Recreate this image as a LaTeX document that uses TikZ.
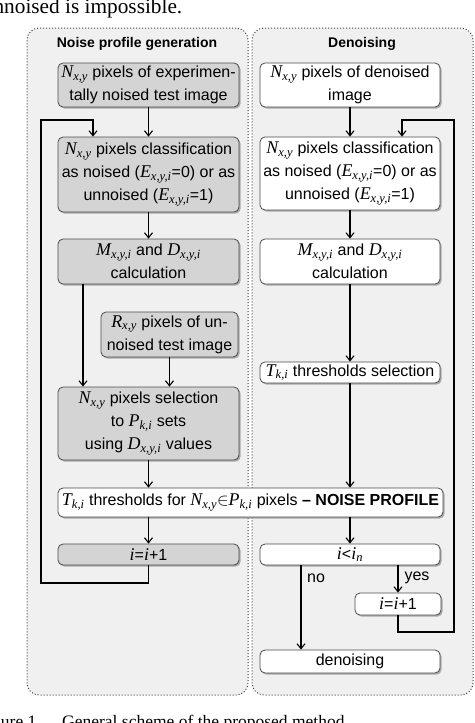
\documentclass[tikz,border=0pt]{standalone}
\usepackage{fontspec}
\setmainfont{Liberation Sans}
\newfontfamily\tms{Liberation Serif}[Scale=1.12]
\newfontfamily\tmsplain{Liberation Serif}
\usetikzlibrary{arrows.meta,shadows,calc}
\newcommand\mv[2]{{\tms\itshape #1\textsubscript{#2}}}
\newcommand\bodyfont{\fontsize{16}{23}\selectfont}
\begin{document}
\begin{tikzpicture}[x=1pt,y=-1pt,
  panel/.style={draw=black!75, dotted, line width=1pt, fill=black!6, rounded corners=12pt, inner sep=0pt},
  box/.style={draw=black!70, line width=0.8pt, rounded corners=5pt, inner sep=0pt, align=center, font=\bodyfont,
    drop shadow={shadow xshift=1.6pt, shadow yshift=-1.6pt, fill=black!45, opacity=0.7}},
  gbox/.style={box, fill=black!17},
  wbox/.style={box, fill=white},
  ttl/.style={font=\fontsize{14}{17}\selectfont\bfseries},
  lbl/.style={font=\bodyfont, inner sep=0pt},
  arr/.style={-{Straight Barb[length=5pt,width=8pt]}, line width=1.1pt},
  ln/.style={line width=1.1pt}]
\useasboundingbox (0,0) rectangle (474,723);

% cut text above and below
\node[anchor=base east, inner sep=0pt, font=\tmsplain\fontsize{21.3}{24}\selectfont] (toptext) at (182.5,13) {unnoised is impossible.};
\node[anchor=base east, inner sep=0pt, font=\tmsplain\fontsize{17.5}{20}\selectfont] (capnum) at (41,727.5) {Figure 1.};
\node[anchor=base west, inner sep=0pt, font=\tmsplain\fontsize{17.5}{20}\selectfont] (captext) at (62,727.5) {General scheme of the proposed method};

% panels
\node[panel, minimum width=221pt, minimum height=667pt] (P1) at (137.5,361.5) {};
\node[panel, minimum width=221pt, minimum height=667pt] (P2) at (362.5,361.5) {};
\node[ttl] (T1) at (137,44) {Noise profile generation};
\node[ttl] (T2) at (362,44) {Denoising};

% left column
\node[gbox, minimum width=181pt, minimum height=44pt] (L1) at (148.5,85) {\mv{N}{x,y} pixels of experimen-\\tally noised test image};
\node[gbox, minimum width=181pt, minimum height=75pt] (L2) at (148.5,174.5) {\mv{N}{x,y} pixels classification\\as noised (\mv{E}{x,y,i}=0) or as\\unnoised (\mv{E}{x,y,i}=1)};
\node[gbox, minimum width=181pt, minimum height=45pt] (L3) at (148.5,261.5) {\mv{M}{x,y,i} and \mv{D}{x,y,i}\\calculation};
\node[gbox, minimum width=137pt, minimum height=45pt] (L4) at (169.5,334.5) {\mv{R}{x,y} pixels of un-\\noised test image};
\node[gbox, minimum width=181pt, minimum height=73pt] (L5) at (148.5,423.5) {\mv{N}{x,y} pixels selection\\to \mv{P}{k,i} sets\\using \mv{D}{x,y,i} values};
\node[wbox, minimum width=385pt, minimum height=29pt] (NP) at (250.5,502.5) {\mv{T}{k,i} thresholds for \mv{N}{x,y}$\in$\mv{P}{k,i} pixels \textbf{-- NOISE PROFILE}};
\node[gbox, minimum width=181pt, minimum height=21pt] (L6) at (148.5,554.5) {{\tms\itshape i}={\tms\itshape i}+1};

% right column
\node[wbox, minimum width=180pt, minimum height=44pt] (R1) at (350,85) {\mv{N}{x,y} pixels of denoised\\image};
\node[wbox, minimum width=180pt, minimum height=73pt] (R2) at (350,173.5) {\mv{N}{x,y} pixels classification\\as noised (\mv{E}{x,y,i}=0) or as\\unnoised (\mv{E}{x,y,i}=1)};
\node[wbox, minimum width=180pt, minimum height=45pt] (R3) at (350,261.5) {\mv{M}{x,y,i} and \mv{D}{x,y,i}\\calculation};
\node[wbox, minimum width=180pt, minimum height=21pt] (R4) at (350,372.5) {\mv{T}{k,i} thresholds selection};
\node[wbox, minimum width=180pt, minimum height=21pt] (R6) at (350,554.5) {{\tms\itshape i}<\mv{i}{n}};
\node[wbox, minimum width=86pt, minimum height=22pt] (R7) at (398,604) {{\tms\itshape i}={\tms\itshape i}+1};
\node[wbox, minimum width=180pt, minimum height=23pt] (R8) at (350,661.5) {denoising};

% helper coordinates
\coordinate (la) at (41,583);
\coordinate (lb) at (93,120);
\coordinate (lx) at (83,0);
\coordinate (ra) at (454,632);
\coordinate (rb) at (402,120);
\coordinate (nx) at (301,0);

% left connectors
\draw[arr] (L1.south) -- (L2.north);
\draw[arr] (L2.south) -- (L3.north);
\draw[arr] (L3.south -| lx) -- (L5.north -| lx);
\draw[arr] (L4.south) -- (L4.south |- L5.north);
\draw[arr] (L5.south) -- (L5.south |- NP.north);
\draw[arr] (L6.north |- NP.south) -- (L6.north);
\draw[arr] (L6.south) |- (la) |- (lb) -- (lb |- L2.north);

% right connectors
\draw[arr] (R1.south) -- (R2.north);
\draw[arr] (R2.south) -- (R3.north);
\draw[arr] (R3.south) -- (R4.north);
\draw[arr] (R4.south) -- (R4.south |- NP.north);
\draw[arr] (R6.north |- NP.south) -- (R6.north);
\draw[arr] (R7.north |- R6.south) -- (R7.north);
\draw[arr] (R6.south -| nx) -- (R8.north -| nx);
\draw[arr] (R7.south) |- (ra) |- (rb) -- (rb |- R2.north);

\node[lbl] (no) at (316,578) {no};
\node[lbl] (yes) at (417,578) {yes};
\end{tikzpicture}
\end{document}
